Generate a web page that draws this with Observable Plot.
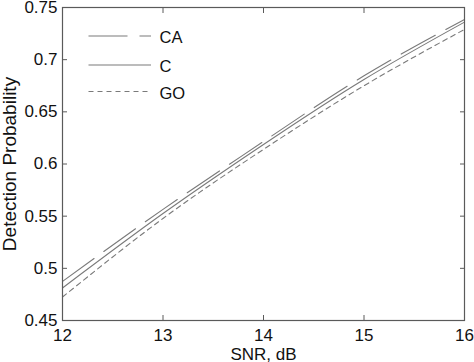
<!DOCTYPE html>
<html>
<head>
<meta charset="utf-8">
<script src="https://cdn.jsdelivr.net/npm/d3@7"></script>
<script src="https://cdn.jsdelivr.net/npm/@observablehq/plot@0.6"></script>
<style>
  html, body { margin: 0; padding: 0; background: #fff; }
  #chart { width: 474px; height: 362px; }
</style>
</head>
<body>
<div id="chart"></div>
<script>
const snr = [12, 13, 14, 15, 16];
const caValues = [0.4874, 0.5565, 0.6216, 0.6845, 0.7385];
const cValues  = [0.4812, 0.5525, 0.6187, 0.6810, 0.7360];
const goValues = [0.4725, 0.5478, 0.6140, 0.6750, 0.7290];
const xTicks = [12, 13, 14, 15, 16];
const yTicks = [0.45, 0.5, 0.55, 0.6, 0.65, 0.7, 0.75];
const seriesNames = ["CA", "C", "GO"];
const xLabel = "SNR, dB";
const yLabel = "Detection Probability";

const lineColor = "#7a7a7a";
const axisColor = "#5a5a5a";
const dashes = {CA: "39,12", C: null, GO: "5,4"};
const seriesValues = {CA: caValues, C: cValues, GO: goValues};

const rows = seriesNames.flatMap(name =>
  snr.map((x, i) => ({series: name, snr: x, p: seriesValues[name][i]})));

const font = "'Liberation Sans', Arial, sans-serif";

const plot = Plot.plot({
  width: 474,
  height: 362,
  marginLeft: 62,
  marginRight: 10,
  marginTop: 7,
  marginBottom: 42,
  style: {fontFamily: font, color: "#111", background: "#fff"},
  x: {domain: [12, 16]},
  y: {domain: [0.45, 0.75]},
  marks: [
    ...seriesNames.map(name => Plot.line(rows.filter(r => r.series === name), {
      x: "snr", y: "p", stroke: lineColor, strokeWidth: 1.1,
      strokeDasharray: dashes[name], curve: "natural"
    })),
    Plot.frame({stroke: axisColor, strokeWidth: 1.2}),
    Plot.axisX({anchor: "bottom", ticks: xTicks, tickSize: -5, tickPadding: 13,
      tickFormat: d => String(d), stroke: axisColor, fill: "#111", fontSize: 17, label: null}),
    Plot.axisX({anchor: "top", ticks: xTicks, tickSize: -5, tickFormat: () => "", stroke: axisColor, label: null}),
    Plot.axisY({anchor: "left", ticks: yTicks, tickSize: -5, tickPadding: 10,
      tickFormat: d => String(d), stroke: axisColor, fill: "#111", fontSize: 17, label: null}),
    Plot.axisY({anchor: "right", ticks: yTicks, tickSize: -5, tickFormat: () => "", stroke: axisColor, label: null}),
    Plot.text([xLabel], {frameAnchor: "bottom", dy: 39, fontSize: 17, fill: "#111", lineAnchor: "bottom"}),
    Plot.text([yLabel], {frameAnchor: "left", dx: -53, rotate: -90, fontSize: 19, fill: "#111",
      textAnchor: "middle", lineAnchor: "middle"})
  ]
});

document.getElementById("chart").appendChild(plot);

// legend (inside plot area, top-left)
const svg = d3.select(plot);
const legend = svg.append("g").attr("font-family", font).attr("font-size", 16.5)
  .attr("fill", "#111").attr("text-anchor", "start");
const legendY = [36, 65, 91.5];
seriesNames.forEach((name, i) => {
  const y = legendY[i];
  legend.append("line")
    .attr("x1", 88.5).attr("x2", 151).attr("y1", y).attr("y2", y)
    .attr("stroke", lineColor).attr("stroke-width", 1.1)
    .attr("stroke-dasharray", dashes[name]);
  legend.append("text").attr("x", 159.5).attr("y", y + 1.5).attr("dy", "0.36em").text(name);
});
</script>
</body>
</html>
